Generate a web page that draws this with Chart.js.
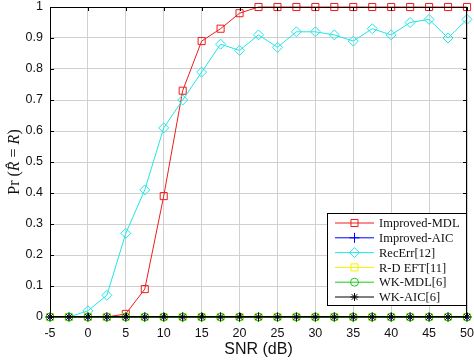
<!DOCTYPE html>
<html>
<head>
<meta charset="utf-8">
<script src="https://cdn.jsdelivr.net/npm/chart.js@4/dist/chart.umd.min.js"></script>
<style>
  html, body { margin: 0; padding: 0; background: #fff; }
  #wrap { width: 474px; height: 361px; }
</style>
</head>
<body>
<div id="wrap"><canvas id="prChart"></canvas></div>
<script>
// SNR grid (dB)
const snr = [-5, -2.5, 0, 2.5, 5, 7.5, 10, 12.5, 15, 17.5, 20, 22.5, 25, 27.5, 30, 32.5, 35, 37.5, 40, 42.5, 45, 47.5, 50];

const improvedMDL = [0, 0, 0, 0, 0.01, 0.09, 0.39, 0.73, 0.89, 0.93, 0.98, 1, 1, 1, 1, 1, 1, 1, 1, 1, 1, 1, 1];
const improvedAIC = [0, 0, 0, 0, 0, 0, 0, 0, 0, 0, 0, 0, 0, 0, 0, 0, 0, 0, 0, 0, 0, 0, 0];
const recErr      = [0, 0, 0.02, 0.07, 0.27, 0.41, 0.61, 0.70, 0.79, 0.88, 0.86, 0.91, 0.87, 0.92, 0.92, 0.91, 0.89, 0.93, 0.91, 0.95, 0.96, 0.90, 0.96];
const rdEFT       = [0, 0, 0, 0, 0, 0, 0, 0, 0, 0, 0, 0, 0, 0, 0, 0, 0, 0, 0, 0, 0, 0, 0];
const wkMDL       = [0, 0, 0, 0, 0, 0, 0, 0, 0, 0, 0, 0, 0, 0, 0, 0, 0, 0, 0, 0, 0, 0, 0];
const wkAIC       = [0, 0, 0, 0, 0, 0, 0, 0, 0, 0, 0, 0, 0, 0, 0, 0, 0, 0, 0, 0, 0, 0, 0];

const xTicks = [-5, 0, 5, 10, 15, 20, 25, 30, 35, 40, 45, 50];
const yTicks = [0, 0.1, 0.2, 0.3, 0.4, 0.5, 0.6, 0.7, 0.8, 0.9, 1];

const seriesLabels = ['Improved-MDL', 'Improved-AIC', 'RecErr[12]', 'R-D EFT[11]', 'WK-MDL[6]', 'WK-AIC[6]'];

function pts(vals) {
    return vals.map((v, i) => ({ x: snr[i], y: v }));
}

function series(label, vals, color, style, radius, order) {
    return {
        label: label,
        data: pts(vals),
        borderColor: color,
        backgroundColor: color,
        borderWidth: 1,
        pointStyle: style,
        pointRadius: radius,
        pointBorderWidth: 1,
        pointBorderColor: color,
        pointBackgroundColor: 'rgba(0,0,0,0)',
        tension: 0,
        clip: false,
        order: order
    };
}

const datasets = [
    series(seriesLabels[0], improvedMDL, '#ee1c1c', 'rect', 5, 6),
    series(seriesLabels[1], improvedAIC, '#0000ff', 'cross', 5, 5),
    series(seriesLabels[2], recErr, '#22e5e5', 'rectRot', 5, 4),
    series(seriesLabels[3], rdEFT, '#f2f200', 'rect', 5, 3),
    series(seriesLabels[4], wkMDL, '#1ec81e', 'circle', 4, 2),
    series(seriesLabels[5], wkAIC, '#000000', 'star', 4, 1)
];

/* ---------- frame, inward ticks, titles, legend ---------- */
const matlabFrame = {
    id: 'matlabFrame',
    afterDraw(chart) {
        const { ctx, chartArea: a, scales } = chart;
        ctx.save();

        // box + inward ticks
        ctx.strokeStyle = '#000';
        ctx.lineWidth = 1;
        ctx.beginPath();
        ctx.rect(a.left + 0.5, a.top + 0.5, a.right - a.left - 1, a.bottom - a.top - 1);
        xTicks.forEach(t => {
            const x = Math.round(scales.x.getPixelForValue(t)) + 0.5;
            ctx.moveTo(x, a.bottom); ctx.lineTo(x, a.bottom - 4);
            ctx.moveTo(x, a.top); ctx.lineTo(x, a.top + 4);
        });
        yTicks.forEach(t => {
            const y = Math.round(scales.y.getPixelForValue(t)) + 0.5;
            ctx.moveTo(a.left, y); ctx.lineTo(a.left + 4, y);
            ctx.moveTo(a.right, y); ctx.lineTo(a.right - 4, y);
        });
        ctx.stroke();

        // x title
        ctx.fillStyle = '#111';
        ctx.font = '16px "Liberation Sans", Arial, sans-serif';
        ctx.textAlign = 'center';
        ctx.textBaseline = 'middle';
        ctx.fillText('SNR (dB)', (a.left + a.right) / 2, 350);

        // y title: Pr (R̂ = R)
        ctx.save();
        ctx.translate(15, (a.top + a.bottom) / 2);
        ctx.rotate(-Math.PI / 2);
        const up = '16px "Liberation Serif", serif';
        const it = 'italic 16px "Liberation Serif", serif';
        const parts = [['Pr', up], [' (', up], ['R\u0302', it], [' = ', up], ['R', it], [')', up]];
        let total = 0;
        parts.forEach(p => { ctx.font = p[1]; total += ctx.measureText(p[0]).width; });
        let px = -total / 2;
        ctx.textAlign = 'left';
        parts.forEach(p => {
            ctx.font = p[1];
            ctx.fillText(p[0], px, 0);
            px += ctx.measureText(p[0]).width;
        });
        ctx.restore();

        // legend box
        const lx = 327, ly = 213, lw = a.right - lx, lh = 93;
        ctx.fillStyle = '#fff';
        ctx.fillRect(lx, ly, lw, lh);
        ctx.strokeStyle = '#000';
        ctx.strokeRect(lx + 0.5, ly + 0.5, lw - 1, lh - 1);
        ctx.font = '12.5px "Liberation Serif", serif';
        ctx.textAlign = 'left';
        ctx.textBaseline = 'middle';
        chart.data.datasets.forEach((ds, i) => {
            const y = 223 + i * 14.8;
            ctx.strokeStyle = ds.borderColor;
            ctx.lineWidth = 1;
            ctx.beginPath();
            ctx.moveTo(335, y); ctx.lineTo(374, y);
            ctx.stroke();
            ctx.fillStyle = 'rgba(0,0,0,0)';
            Chart.helpers.drawPoint(ctx, {
                pointStyle: ds.pointStyle, radius: ds.pointRadius, rotation: 0, borderWidth: 1
            }, 354.5, y);
            ctx.fillStyle = '#111';
            ctx.fillText(ds.label, 379, y + 1);
        });

        ctx.restore();
    }
};

new Chart(document.getElementById('prChart'), {
    type: 'line',
    data: { datasets: datasets },
    options: {
        responsive: true,
        maintainAspectRatio: false,
        animation: false,
        layout: { padding: 0 },
        plugins: {
            legend: { display: false },
            tooltip: { enabled: false }
        },
        scales: {
            x: {
                type: 'linear',
                min: -5,
                max: 50,
                afterFit: s => { s.height = 44; s.paddingRight = 7; s.paddingLeft = 0; },
                afterBuildTicks: s => { s.ticks = xTicks.map(v => ({ value: v })); },
                grid: { color: '#d0d0d0', drawTicks: false },
                border: { color: '#000' },
                ticks: {
                    padding: 9,
                    color: '#111',
                    font: { family: '"Liberation Sans", Arial, sans-serif', size: 12.5 },
                    maxRotation: 0
                }
            },
            y: {
                min: 0,
                max: 1,
                afterFit: s => { s.width = 50; s.paddingTop = 7; s.paddingBottom = 0; },
                afterBuildTicks: s => { s.ticks = yTicks.map(v => ({ value: v })); },
                grid: { color: '#d0d0d0', drawTicks: false },
                border: { color: '#000' },
                ticks: {
                    padding: 7,
                    color: '#111',
                    font: { family: '"Liberation Sans", Arial, sans-serif', size: 12.5 },
                    callback: v => String(Math.round(v * 10) / 10)
                }
            }
        }
    },
    plugins: [matlabFrame]
});
</script>
</body>
</html>
